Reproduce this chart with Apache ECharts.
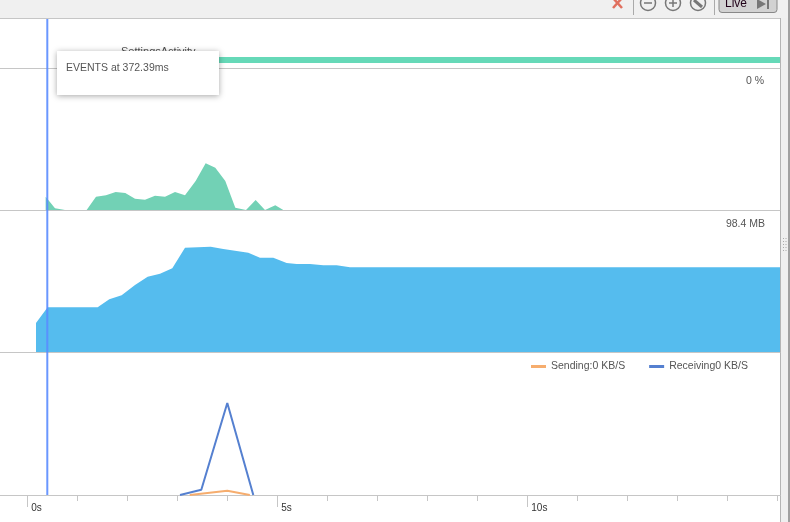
<!DOCTYPE html>
<html><head><meta charset="utf-8">
<style>html,body{margin:0;padding:0;background:#fff}#c{width:790px;height:522px}</style>
<script src="https://cdn.jsdelivr.net/npm/echarts@6/dist/echarts.min.js"></script>
</head><body><div id="c"></div>
<script>
const cpuTimes=[0.367,0.554,0.754,1.187,1.374,1.574,1.767,1.96,2.154,2.354,2.554,2.754,2.954,3.154,3.367,3.567,3.76,3.96,4.16,4.374,4.567,4.754,4.96,5.12];
const cpuValues=[9.4,1.2,0,0,9.4,10.3,12.7,12,8,7.3,10.1,9.4,12.7,10.3,20.4,32.9,29.8,20.4,1.6,0,7,0,3.3,0];
const memTimes=[0.174,0.407,1.407,1.64,1.887,2.154,2.407,2.654,2.9,3.154,3.667,3.92,4.42,4.654,4.92,5.187,5.387,5.654,5.92,6.187,6.454,15.054];
const memValues=[20.1,31,31,36.5,39.3,46.4,52.2,54.3,58,72.3,73,71.4,68.8,65.3,65.3,61.7,61,61,60.1,60.1,58.7,58.7];
const netTimes=[3.054,3.48,4,4.52];
const receiving=[0,3.7,64.3,0];
const sendTimes=[3.25,4,4.45];
const sending=[0,3,0];
const eventTimes=[2,15.054];
const eventName='SettingsActivity';
const cursorTime=0.4;
const majorTicks=[0,5,10];
const minorTicks=[1,2,3,4,6,7,8,9,11,12,13,14,15];
const tickLabels={0:'0s',5:'5s',10:'10s'};
const timeMin=-0.546,timeMax=15.054;
const zip=(a,b)=>a.map((x,i)=>[x,b[i]]);
const RULE='#c6c6c6';
const hiddenX=i=>({type:'value',gridIndex:i,position:'bottom',min:timeMin,max:timeMax,show:true,axisLine:{show:true,onZero:false,lineStyle:{color:RULE,width:1}},axisTick:{show:false},axisLabel:{show:false},splitLine:{show:false}});
const hiddenY=(i,max)=>({type:'value',gridIndex:i,min:0,max,show:false,splitLine:{show:false}});
const gray='#777';
const chrome=[
 {type:'rect',shape:{x:0,y:0,width:790,height:18},style:{fill:'#f0f0f0'}},
 {type:'rect',shape:{x:0,y:18,width:781,height:1},style:{fill:'#c6c6c6'}},
 {type:'rect',shape:{x:780,y:18,width:1,height:504},style:{fill:'#b4b4b4'}},
 {type:'rect',shape:{x:781,y:18,width:7,height:504},style:{fill:'#efefef'}},
 {type:'rect',shape:{x:788,y:0,width:2,height:522},style:{fill:'#a0a0a0'}},
 {type:'line',shape:{x1:613,y1:-2,x2:622,y2:8},style:{stroke:'#e0705f',lineWidth:2.5}},
 {type:'line',shape:{x1:622,y1:-2,x2:613,y2:8},style:{stroke:'#e0705f',lineWidth:2.5}},
 {type:'rect',shape:{x:633,y:0,width:1,height:15},style:{fill:'#aaa'}},
 {type:'rect',shape:{x:714,y:0,width:1,height:15},style:{fill:'#aaa'}},
 {type:'circle',shape:{cx:648,cy:3,r:7.5},style:{fill:'none',stroke:gray,lineWidth:1.5}},
 {type:'line',shape:{x1:644,y1:3,x2:652,y2:3},style:{stroke:gray,lineWidth:1.5}},
 {type:'circle',shape:{cx:673,cy:3,r:7.5},style:{fill:'none',stroke:gray,lineWidth:1.5}},
 {type:'line',shape:{x1:669,y1:3,x2:677,y2:3},style:{stroke:gray,lineWidth:1.5}},
 {type:'line',shape:{x1:673,y1:-1,x2:673,y2:7},style:{stroke:gray,lineWidth:1.5}},
 {type:'circle',shape:{cx:698,cy:3,r:7.5},style:{fill:'none',stroke:gray,lineWidth:1.5}},
 {type:'line',shape:{x1:694,y1:0,x2:702,y2:7},style:{stroke:gray,lineWidth:3}},
 {type:'rect',shape:{x:719,y:-4,width:58,height:16.5,r:3},style:{fill:'#d2d2d2',stroke:'#888',lineWidth:1}},
 {type:'text',x:725,y:4,style:{text:'Live',fill:'#200018',font:'12px "Liberation Sans"',textVerticalAlign:'middle'}},
 {type:'polygon',shape:{points:[[757,-1],[766,4],[757,9]]},style:{fill:'#777'}},
 {type:'rect',shape:{x:767,y:-1,width:2,height:10},style:{fill:'#777'}},
 ...[238,241,244,247,250].flatMap(y=>[783,785.5].map(x=>({type:'rect',shape:{x,y,width:1,height:1},style:{fill:'#aaa'}}))),
 {type:'text',x:764,y:81,style:{text:'0 %',fill:'#555',font:'10.5px "Liberation Sans"',textAlign:'right',textVerticalAlign:'middle'}},
 {type:'text',x:765,y:224,style:{text:'98.4 MB',fill:'#555',font:'10.5px "Liberation Sans"',textAlign:'right',textVerticalAlign:'middle'}},
 {type:'rect',z:100,shape:{x:57,y:51,width:162,height:44},style:{fill:'#fff',shadowBlur:6,shadowColor:'rgba(0,0,0,0.35)',shadowOffsetX:0,shadowOffsetY:1}},
 {type:'text',z:101,x:66,y:68,style:{text:'EVENTS at 372.39ms',fill:'#555',font:'10.5px "Liberation Sans"',textVerticalAlign:'middle'}}
];
const opt={
 animation:false,
 backgroundColor:'#fff',
 textStyle:{fontFamily:'"Liberation Sans"'},
 grid:[
  {left:0,width:780,top:19,height:49},
  {left:0,width:780,top:68,height:142},
  {left:0,width:780,top:210,height:142},
  {left:0,width:780,top:352,height:143},
  {left:0,width:780,top:19,height:476}
 ],
 xAxis:[
  hiddenX(0),hiddenX(1),hiddenX(2),
  Object.assign(hiddenX(3),{axisTick:{show:true,customValues:majorTicks,length:12,lineStyle:{color:RULE}},
    axisLabel:{show:true,customValues:majorTicks,formatter:v=>tickLabels[v]||'',align:'left',padding:[0,0,0,4],margin:8,color:'#333',fontSize:10,hideOverlap:false,showMinLabel:true,showMaxLabel:true}}),
  Object.assign(hiddenX(3),{axisTick:{show:true,customValues:minorTicks,length:6,lineStyle:{color:RULE}}}),
  Object.assign(hiddenX(4),{axisLine:{show:false}})
 ],
 yAxis:[hiddenY(0,1),hiddenY(1,100),hiddenY(2,98.4),hiddenY(3,100),hiddenY(4,1)],
 legend:{left:531,top:361,padding:0,icon:'rect',itemWidth:15,itemHeight:3,itemGap:24,selectedMode:false,
  data:['Sending:0 KB/S','Receiving0 KB/S'],textStyle:{color:'#555',fontSize:10.5}},
 series:[
  {type:'line',xAxisIndex:0,yAxisIndex:0,symbol:'none',silent:true,lineStyle:{color:'#66d9b8',width:6,cap:'butt'},data:zip(eventTimes,[0.163,0.163])},
  {type:'scatter',xAxisIndex:0,yAxisIndex:0,symbolSize:0,silent:true,data:[[2.62,0.32]],
    label:{show:true,position:'inside',formatter:eventName,color:'#222',fontSize:11}},
  {type:'line',xAxisIndex:1,yAxisIndex:1,symbol:'none',lineStyle:{width:0},areaStyle:{color:'#72d1b5',opacity:1},data:zip(cpuTimes,cpuValues)},
  {type:'line',xAxisIndex:2,yAxisIndex:2,symbol:'none',lineStyle:{width:0},areaStyle:{color:'#55bcee',opacity:1},data:zip(memTimes,memValues)},
  {name:'Sending:0 KB/S',type:'line',xAxisIndex:3,yAxisIndex:3,symbol:'none',itemStyle:{color:'#f6ad6e'},lineStyle:{color:'#f6ad6e',width:2},data:zip(sendTimes,sending)},
  {name:'Receiving0 KB/S',type:'line',xAxisIndex:3,yAxisIndex:3,symbol:'none',itemStyle:{color:'#5580d0'},lineStyle:{color:'#5580d0',width:2},data:zip(netTimes,receiving)},
  {type:'line',xAxisIndex:5,yAxisIndex:4,symbol:'none',silent:true,z:20,lineStyle:{color:'#5a8cff',width:2,opacity:0.9},data:zip([cursorTime,cursorTime],[0,1])}
 ],
 graphic:{elements:chrome}
};
const chart=echarts.init(document.getElementById('c'),null,{renderer:'canvas'});
chart.setOption(opt);
</script></body></html>
